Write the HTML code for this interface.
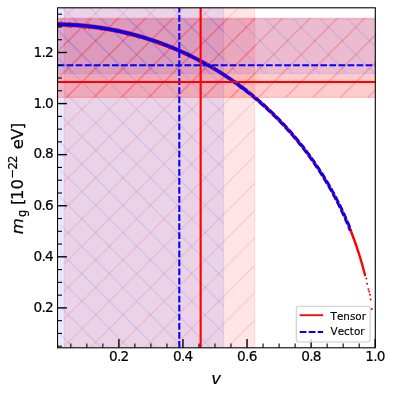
<!DOCTYPE html>
<html><head><meta charset="utf-8"><style>html,body{margin:0;padding:0;background:#fff;overflow:hidden}svg{display:block}</style></head>
<body>
<svg width="394" height="396" viewBox="0 0 394 396">
<defs>
<pattern id="hr" patternUnits="userSpaceOnUse" width="27.4" height="27.4" x="26.9" y="0"><path d="M-1 1 L1 -1 M0 27.4 L27.4 0 M26.4 28.4 L28.4 26.4" stroke="#f00" stroke-width="1.05" fill="none"/></pattern>
<pattern id="hb" patternUnits="userSpaceOnUse" width="27.4" height="27.4" x="0" y="0"><path d="M-1 -1 L1 1 M0 0 L27.4 27.4 M26.4 26.4 L28.4 28.4" stroke="#00f" stroke-width="1.05" fill="none"/></pattern>
<clipPath id="ax"><rect x="57.6" y="7.8" width="317.7" height="340.0"/></clipPath>
</defs>
<rect width="394" height="396" fill="#fff"/>
<g clip-path="url(#ax)">
<g opacity="0.1"><rect x="64.1" y="5.8" width="190.6" height="344.0" fill="#f00"/></g>
<g opacity="0.150"><rect x="64.1" y="5.8" width="190.6" height="344.0" fill="url(#hr)"/></g>
<rect x="64.1" y="5.8" width="190.6" height="344.0" fill="none" stroke="#f00" stroke-opacity="0.1" stroke-width="1.14"/>
<g opacity="0.08"><rect x="60.0" y="5.8" width="163.6" height="344.0" fill="#00f"/></g>
<g opacity="0.120"><rect x="60.0" y="5.8" width="163.6" height="344.0" fill="url(#hb)"/></g>
<rect x="60.0" y="5.8" width="163.6" height="344.0" fill="none" stroke="#00f" stroke-opacity="0.08" stroke-width="1.14"/>
<g opacity="0.2"><rect x="55.6" y="18.2" width="321.7" height="79.2" fill="#f00"/></g>
<g opacity="0.300"><rect x="55.6" y="18.2" width="321.7" height="79.2" fill="url(#hr)"/></g>
<rect x="55.6" y="18.2" width="321.7" height="79.2" fill="none" stroke="#f00" stroke-opacity="0.2" stroke-width="1.14"/>
<g opacity="0.08"><rect x="55.6" y="19.3" width="321.7" height="54.3" fill="#00f"/></g>
<g opacity="0.120"><rect x="55.6" y="19.3" width="321.7" height="54.3" fill="url(#hb)"/></g>
<rect x="55.6" y="19.3" width="321.7" height="54.3" fill="none" stroke="#00f" stroke-opacity="0.08" stroke-width="1.14"/>
<path d="M54.80 23.26 L55.58 23.26 L56.35 23.26 L57.13 23.27 L57.90 23.27 L58.68 23.28 L59.45 23.29 L60.23 23.30 L61.00 23.32 L61.78 23.34 L62.55 23.36 L63.33 23.38 L64.10 23.40 L64.88 23.42 L65.66 23.45 L66.43 23.48 L67.21 23.51 L67.98 23.54 L68.76 23.58 L69.53 23.61 L70.31 23.65 L71.08 23.69 L71.86 23.73 L72.63 23.78 L73.41 23.82 L74.18 23.87 L74.96 23.92 L75.73 23.97 L76.51 24.03 L77.29 24.08 L78.06 24.14 L78.84 24.20 L79.61 24.26 L80.39 24.33 L81.16 24.40 L81.94 24.46 L82.71 24.53 L83.49 24.61 L84.26 24.68 L85.04 24.76 L85.81 24.83 L86.59 24.91 L87.37 25.00 L88.14 25.08 L88.92 25.17 L89.69 25.25 L90.47 25.34 L91.24 25.44 L92.02 25.53 L92.79 25.63 L93.57 25.72 L94.34 25.82 L95.12 25.93 L95.89 26.03 L96.67 26.14 L97.45 26.24 L98.22 26.35 L99.00 26.47 L99.77 26.58 L100.55 26.70 L101.32 26.81 L102.10 26.93 L102.87 27.06 L103.65 27.18 L104.42 27.31 L105.20 27.44 L105.97 27.57 L106.75 27.70 L107.53 27.83 L108.30 27.97 L109.08 28.11 L109.85 28.25 L110.63 28.39 L111.40 28.54 L112.18 28.68 L112.95 28.83 L113.73 28.98 L114.50 29.14 L115.28 29.29 L116.05 29.45 L116.83 29.61 L117.60 29.77 L118.38 29.93 L119.16 30.10 L119.93 30.27 L120.71 30.44 L121.48 30.61 L122.26 30.78 L123.03 30.96 L123.81 31.14 L124.58 31.32 L125.36 31.50 L126.13 31.68 L126.91 31.87 L127.68 32.06 L128.46 32.25 L129.24 32.44 L130.01 32.64 L130.79 32.83 L131.56 33.03 L132.34 33.24 L133.11 33.44 L133.89 33.65 L134.66 33.85 L135.44 34.06 L136.21 34.28 L136.99 34.49 L137.76 34.71 L138.54 34.93 L139.32 35.15 L140.09 35.37 L140.87 35.60 L141.64 35.82 L142.42 36.05 L143.19 36.29 L143.97 36.52 L144.74 36.76 L145.52 36.99 L146.29 37.24 L147.07 37.48 L147.84 37.72 L148.62 37.97 L149.39 38.22 L150.17 38.47 L150.95 38.73 L151.72 38.99 L152.50 39.24 L153.27 39.51 L154.05 39.77 L154.82 40.04 L155.60 40.30 L156.37 40.57 L157.15 40.85 L157.92 41.12 L158.70 41.40 L159.47 41.68 L160.25 41.96 L161.03 42.24 L161.80 42.53 L162.58 42.82 L163.35 43.11 L164.13 43.41 L164.90 43.70 L165.68 44.00 L166.45 44.30 L167.23 44.60 L168.00 44.91 L168.78 45.22 L169.55 45.53 L170.33 45.84 L171.11 46.16 L171.88 46.47 L172.66 46.79 L173.43 47.12 L174.21 47.44 L174.98 47.77 L175.76 48.10 L176.53 48.43 L177.31 48.77 L178.08 49.10 L178.86 49.44 L179.63 49.79 L180.41 50.13 L181.18 50.48 L181.96 50.83 L182.74 51.18 L183.51 51.54 L184.29 51.89 L185.06 52.26 L185.84 52.62 L186.61 52.98 L187.39 53.35 L188.16 53.72 L188.94 54.10 L189.71 54.47 L190.49 54.85 L191.26 55.23 L192.04 55.61 L192.82 56.00 L193.59 56.39 L194.37 56.78 L195.14 57.18 L195.92 57.57 L196.69 57.97 L197.47 58.38 L198.24 58.78 L199.02 59.19 L199.79 59.60 L200.57 60.01 L201.34 60.43 L202.12 60.85 L202.90 61.27 L203.67 61.70 L204.45 62.12 L205.22 62.56 L206.00 62.99 L206.77 63.43 L207.55 63.86 L208.32 64.31 L209.10 64.75 L209.87 65.20 L210.65 65.65 L211.42 66.10 L212.20 66.56 L212.98 67.02 L213.75 67.48 L214.53 67.95 L215.30 68.42 L216.08 68.89 L216.85 69.36 L217.63 69.84 L218.40 70.32 L219.18 70.81 L219.95 71.29 L220.73 71.78 L221.50 72.28 L222.28 72.77 L223.05 73.27 L223.83 73.78 L224.61 74.28 L225.38 74.79 L226.16 75.31 L226.93 75.82 L227.71 76.34 L228.48 76.86 L229.26 77.39 L230.03 77.92 L230.81 78.45 L231.58 78.99 L232.36 79.52 L233.13 80.07 L233.91 80.61 L234.69 81.16 L235.46 81.72 L236.24 82.27 L237.01 82.83 L237.79 83.40 L238.56 83.96 L239.34 84.53 L240.11 85.11 L240.89 85.69 L241.66 86.27 L242.44 86.85 L243.21 87.44 L243.99 88.03 L244.77 88.63 L245.54 89.23 L246.32 89.83 L247.09 90.44 L247.87 91.05 L248.64 91.67 L249.42 92.29 L250.19 92.91 L250.97 93.54 L251.74 94.17 L252.52 94.80 L253.29 95.44 L254.07 96.09 L254.84 96.73 L255.62 97.39 L256.40 98.04 L257.17 98.70 L257.95 99.37 L258.72 100.03 L259.50 100.71 L260.27 101.38 L261.05 102.06 L261.82 102.75 L262.60 103.44 L263.37 104.13 L264.15 104.83 L264.92 105.54 L265.70 106.24 L266.48 106.96 L267.25 107.67 L268.03 108.40 L268.80 109.12 L269.58 109.86 L270.35 110.59 L271.13 111.33 L271.90 112.08 L272.68 112.83 L273.45 113.59 L274.23 114.35 L275.00 115.11 L275.78 115.88 L276.56 116.66 L277.33 117.44 L278.11 118.23 L278.88 119.02 L279.66 119.82 L280.43 120.62 L281.21 121.43 L281.98 122.25 L282.76 123.07 L283.53 123.89 L284.31 124.72 L285.08 125.56 L285.86 126.40 L286.64 127.25 L287.41 128.10 L288.19 128.97 L288.96 129.83 L289.74 130.71 L290.51 131.58 L291.29 132.47 L292.06 133.36 L292.84 134.26 L293.61 135.17 L294.39 136.08 L295.16 137.00 L295.94 137.92 L296.71 138.85 L297.49 139.79 L298.27 140.74 L299.04 141.69 L299.82 142.65 L300.59 143.62 L301.37 144.60 L302.14 145.58 L302.92 146.57 L303.69 147.57 L304.47 148.57 L305.24 149.59 L306.02 150.61 L306.79 151.64 L307.57 152.68 L308.35 153.73 L309.12 154.78 L309.90 155.85 L310.67 156.92 L311.45 158.00 L312.22 159.10 L313.00 160.20 L313.77 161.31 L314.55 162.43 L315.32 163.56 L316.10 164.70 L316.87 165.85 L317.65 167.01 L318.43 168.18 L319.20 169.36 L319.98 170.55 L320.75 171.76 L321.53 172.97 L322.30 174.20 L323.08 175.44 L323.85 176.69 L324.63 177.95 L325.40 179.22 L326.18 180.51 L326.95 181.81 L327.73 183.13 L328.50 184.46 L329.28 185.80 L330.06 187.15 L330.83 188.53 L331.61 189.91 L332.38 191.31 L333.16 192.73 L333.93 194.16 L334.71 195.61 L335.48 197.08 L336.26 198.57 L337.03 200.07 L337.81 201.59 L338.58 203.13 L339.36 204.69 L340.14 206.27 L340.91 207.87 L341.69 209.49 L342.46 211.14 L343.24 212.81 L344.01 214.50 L344.79 216.22 L345.56 217.96 L346.34 219.73 L347.11 221.52 L347.89 223.35 L348.66 225.20 L349.44 227.09 L350.22 229.01 L350.99 230.96 L351.77 232.95 L352.54 234.97 L353.32 237.04 L354.09 239.14 L354.87 241.29 L355.64 243.48 L356.42 245.72 L357.19 248.02 L357.97 250.37 L358.74 252.77 L359.52 255.24 L360.29 257.77 L361.07 260.38 L361.85 263.06 L362.62 265.83 L363.40 268.69 L364.17 271.66 L364.95 274.73 L364.95 275.31 L364.17 272.25 L363.40 269.31 L362.62 266.47 L361.85 263.72 L361.07 261.06 L360.29 258.47 L359.52 255.95 L358.74 253.50 L357.97 251.11 L357.19 248.78 L356.42 246.50 L355.64 244.27 L354.87 242.09 L354.09 239.96 L353.32 237.87 L352.54 235.82 L351.77 233.81 L350.99 231.84 L350.22 229.90 L349.44 227.99 L348.66 226.12 L347.89 224.28 L347.11 222.46 L346.34 220.68 L345.56 218.92 L344.79 217.19 L344.01 215.49 L343.24 213.81 L342.46 212.15 L341.69 210.52 L340.91 208.91 L340.14 207.32 L339.36 205.75 L338.58 204.20 L337.81 202.67 L337.03 201.16 L336.26 199.66 L335.48 198.19 L334.71 196.73 L333.93 195.29 L333.16 193.87 L332.38 192.46 L331.61 191.07 L330.83 189.69 L330.06 188.33 L329.28 186.98 L328.50 185.65 L327.73 184.33 L326.95 183.03 L326.18 181.73 L325.40 180.45 L324.63 179.19 L323.85 177.93 L323.08 176.69 L322.30 175.46 L321.53 174.24 L320.75 173.04 L319.98 171.84 L319.20 170.66 L318.43 169.48 L317.65 168.32 L316.87 167.17 L316.10 166.03 L315.32 164.89 L314.55 163.77 L313.77 162.66 L313.00 161.56 L312.22 160.46 L311.45 159.38 L310.67 158.30 L309.90 157.24 L309.12 156.18 L308.35 155.13 L307.57 154.09 L306.79 153.06 L306.02 152.04 L305.24 151.02 L304.47 150.01 L303.69 149.01 L302.92 148.02 L302.14 147.04 L301.37 146.06 L300.59 145.09 L299.82 144.13 L299.04 143.18 L298.27 142.23 L297.49 141.29 L296.71 140.36 L295.94 139.43 L295.16 138.52 L294.39 137.60 L293.61 136.70 L292.84 135.80 L292.06 134.91 L291.29 134.02 L290.51 133.14 L289.74 132.27 L288.96 131.40 L288.19 130.54 L287.41 129.69 L286.64 128.84 L285.86 127.99 L285.08 127.16 L284.31 126.33 L283.53 125.50 L282.76 124.68 L281.98 123.87 L281.21 123.06 L280.43 122.25 L279.66 121.46 L278.88 120.66 L278.11 119.88 L277.33 119.10 L276.56 118.32 L275.78 117.55 L275.00 116.78 L274.23 116.02 L273.45 115.27 L272.68 114.52 L271.90 113.77 L271.13 113.03 L270.35 112.29 L269.58 111.56 L268.80 110.83 L268.03 110.11 L267.25 109.40 L266.48 108.68 L265.70 107.98 L264.92 107.27 L264.15 106.57 L263.37 105.88 L262.60 105.19 L261.82 104.50 L261.05 103.82 L260.27 103.15 L259.50 102.47 L258.72 101.81 L257.95 101.14 L257.17 100.48 L256.40 99.83 L255.62 99.18 L254.84 98.53 L254.07 97.89 L253.29 97.25 L252.52 96.61 L251.74 95.98 L250.97 95.36 L250.19 94.73 L249.42 94.11 L248.64 93.50 L247.87 92.89 L247.09 92.28 L246.32 91.68 L245.54 91.08 L244.77 90.48 L243.99 89.89 L243.21 89.30 L242.44 88.72 L241.66 88.13 L240.89 87.56 L240.11 86.98 L239.34 86.41 L238.56 85.85 L237.79 85.28 L237.01 84.72 L236.24 84.17 L235.46 83.61 L234.69 83.07 L233.91 82.52 L233.13 81.98 L232.36 81.44 L231.58 80.90 L230.81 80.37 L230.03 79.84 L229.26 79.32 L228.48 78.79 L227.71 78.28 L226.93 77.76 L226.16 77.25 L225.38 76.74 L224.61 76.23 L223.83 75.73 L223.05 75.23 L222.28 74.73 L221.50 74.24 L220.73 73.75 L219.95 73.26 L219.18 72.78 L218.40 72.30 L217.63 71.82 L216.85 71.35 L216.08 70.88 L215.30 70.41 L214.53 69.94 L213.75 69.48 L212.98 69.02 L212.20 68.56 L211.42 68.11 L210.65 67.66 L209.87 67.21 L209.10 66.77 L208.32 66.32 L207.55 65.88 L206.77 65.45 L206.00 65.02 L205.22 64.58 L204.45 64.16 L203.67 63.73 L202.90 63.31 L202.12 62.89 L201.34 62.47 L200.57 62.06 L199.79 61.65 L199.02 61.24 L198.24 60.84 L197.47 60.43 L196.69 60.03 L195.92 59.64 L195.14 59.24 L194.37 58.85 L193.59 58.46 L192.82 58.08 L192.04 57.69 L191.26 57.31 L190.49 56.93 L189.71 56.56 L188.94 56.18 L188.16 55.81 L187.39 55.44 L186.61 55.08 L185.84 54.72 L185.06 54.36 L184.29 54.00 L183.51 53.64 L182.74 53.29 L181.96 52.94 L181.18 52.59 L180.41 52.25 L179.63 51.90 L178.86 51.56 L178.08 51.23 L177.31 50.89 L176.53 50.56 L175.76 50.23 L174.98 49.90 L174.21 49.58 L173.43 49.25 L172.66 48.93 L171.88 48.61 L171.11 48.30 L170.33 47.99 L169.55 47.67 L168.78 47.37 L168.00 47.06 L167.23 46.76 L166.45 46.46 L165.68 46.16 L164.90 45.86 L164.13 45.57 L163.35 45.27 L162.58 44.99 L161.80 44.70 L161.03 44.41 L160.25 44.13 L159.47 43.85 L158.70 43.57 L157.92 43.30 L157.15 43.02 L156.37 42.75 L155.60 42.49 L154.82 42.22 L154.05 41.95 L153.27 41.69 L152.50 41.43 L151.72 41.18 L150.95 40.92 L150.17 40.67 L149.39 40.42 L148.62 40.17 L147.84 39.92 L147.07 39.68 L146.29 39.44 L145.52 39.20 L144.74 38.96 L143.97 38.73 L143.19 38.49 L142.42 38.26 L141.64 38.04 L140.87 37.81 L140.09 37.59 L139.32 37.36 L138.54 37.14 L137.76 36.93 L136.99 36.71 L136.21 36.50 L135.44 36.29 L134.66 36.08 L133.89 35.87 L133.11 35.67 L132.34 35.47 L131.56 35.27 L130.79 35.07 L130.01 34.87 L129.24 34.68 L128.46 34.49 L127.68 34.30 L126.91 34.11 L126.13 33.92 L125.36 33.74 L124.58 33.56 L123.81 33.38 L123.03 33.20 L122.26 33.03 L121.48 32.86 L120.71 32.69 L119.93 32.52 L119.16 32.35 L118.38 32.19 L117.60 32.02 L116.83 31.86 L116.05 31.71 L115.28 31.55 L114.50 31.40 L113.73 31.24 L112.95 31.09 L112.18 30.95 L111.40 30.80 L110.63 30.66 L109.85 30.51 L109.08 30.37 L108.30 30.24 L107.53 30.10 L106.75 29.97 L105.97 29.84 L105.20 29.71 L104.42 29.58 L103.65 29.45 L102.87 29.33 L102.10 29.21 L101.32 29.09 L100.55 28.97 L99.77 28.86 L99.00 28.74 L98.22 28.63 L97.45 28.52 L96.67 28.41 L95.89 28.31 L95.12 28.21 L94.34 28.10 L93.57 28.01 L92.79 27.91 L92.02 27.81 L91.24 27.72 L90.47 27.63 L89.69 27.54 L88.92 27.45 L88.14 27.37 L87.37 27.28 L86.59 27.20 L85.81 27.12 L85.04 27.04 L84.26 26.97 L83.49 26.89 L82.71 26.82 L81.94 26.75 L81.16 26.69 L80.39 26.62 L79.61 26.56 L78.84 26.49 L78.06 26.44 L77.29 26.38 L76.51 26.32 L75.73 26.27 L74.96 26.22 L74.18 26.17 L73.41 26.12 L72.63 26.07 L71.86 26.03 L71.08 25.99 L70.31 25.95 L69.53 25.91 L68.76 25.87 L67.98 25.84 L67.21 25.81 L66.43 25.78 L65.66 25.75 L64.88 25.72 L64.10 25.70 L63.33 25.67 L62.55 25.65 L61.78 25.63 L61.00 25.62 L60.23 25.60 L59.45 25.59 L58.68 25.58 L57.90 25.57 L57.13 25.56 L56.35 25.56 L55.58 25.56 L54.80 25.56 Z" fill="#f00" stroke="#f00" stroke-width="2.2" stroke-linejoin="round"/>
<circle cx="365.1" cy="274.4" r="1.0" fill="#f00"/>
<circle cx="366.3" cy="278.6" r="1.0" fill="#f00"/>
<circle cx="367.1" cy="283.7" r="1.0" fill="#f00"/>
<circle cx="368.4" cy="289.2" r="1.0" fill="#f00"/>
<circle cx="369.1" cy="291.5" r="1.0" fill="#f00"/>
<circle cx="370.0" cy="294.8" r="1.0" fill="#f00"/>
<circle cx="370.6" cy="299.6" r="1.0" fill="#f00"/>
<circle cx="371.8" cy="308.9" r="1.0" fill="#f00"/>
<path d="M54.80 23.69 L55.28 23.69 L55.76 23.69 L56.24 23.69 L56.72 23.70 L57.20 23.70 L57.68 23.70 L58.16 23.71 L58.64 23.72 L59.13 23.72 L59.61 23.73 L60.09 23.74 L60.57 23.75 L61.05 23.75 L61.53 23.76 L62.01 23.78 L62.49 23.79 L62.97 23.80 L63.45 23.81 L63.93 23.83 L64.41 23.84 L64.89 23.86 L65.37 23.87 L65.85 23.89 L66.33 23.91 L66.81 23.93 L67.30 23.95 L67.78 23.97 L68.26 23.99 L68.74 24.01 L69.22 24.03 L69.70 24.05 L70.18 24.08 L70.66 24.10 L71.14 24.13 L71.62 24.15 L72.10 24.18 L72.58 24.21 L73.06 24.24 L73.54 24.27 L74.02 24.29 L74.50 24.33 L74.99 24.36 L75.47 24.39 L75.95 24.42 L76.43 24.46 L76.91 24.49 L77.39 24.53 L77.87 24.56 L78.35 24.60 L78.83 24.64 L79.31 24.67 L79.79 24.71 L80.27 24.75 L80.75 24.79 L81.23 24.83 L81.71 24.88 L82.19 24.92 L82.67 24.96 L83.16 25.01 L83.64 25.05 L84.12 25.10 L84.60 25.14 L85.08 25.19 L85.56 25.24 L86.04 25.29 L86.52 25.34 L87.00 25.39 L87.48 25.44 L87.96 25.49 L88.44 25.54 L88.92 25.60 L89.40 25.65 L89.88 25.71 L90.36 25.76 L90.84 25.82 L91.33 25.88 L91.81 25.93 L92.29 25.99 L92.77 26.05 L93.25 26.11 L93.73 26.17 L94.21 26.24 L94.69 26.30 L95.17 26.36 L95.65 26.43 L96.13 26.49 L96.61 26.56 L97.09 26.62 L97.57 26.69 L98.05 26.76 L98.53 26.83 L99.02 26.90 L99.50 26.97 L99.98 27.04 L100.46 27.11 L100.94 27.19 L101.42 27.26 L101.90 27.33 L102.38 27.41 L102.86 27.48 L103.34 27.56 L103.82 27.64 L104.30 27.72 L104.78 27.80 L105.26 27.88 L105.74 27.96 L106.22 28.04 L106.70 28.12 L107.19 28.20 L107.67 28.29 L108.15 28.37 L108.63 28.46 L109.11 28.54 L109.59 28.63 L110.07 28.72 L110.55 28.81 L111.03 28.89 L111.51 28.98 L111.99 29.08 L112.47 29.17 L112.95 29.26 L113.43 29.35 L113.91 29.45 L114.39 29.54 L114.88 29.64 L115.36 29.73 L115.84 29.83 L116.32 29.93 L116.80 30.03 L117.28 30.13 L117.76 30.23 L118.24 30.33 L118.72 30.43 L119.20 30.53 L119.68 30.64 L120.16 30.74 L120.64 30.85 L121.12 30.95 L121.60 31.06 L122.08 31.17 L122.56 31.28 L123.05 31.39 L123.53 31.50 L124.01 31.61 L124.49 31.72 L124.97 31.83 L125.45 31.94 L125.93 32.06 L126.41 32.17 L126.89 32.29 L127.37 32.40 L127.85 32.52 L128.33 32.64 L128.81 32.76 L129.29 32.88 L129.77 33.00 L130.25 33.12 L130.73 33.24 L131.22 33.37 L131.70 33.49 L132.18 33.62 L132.66 33.74 L133.14 33.87 L133.62 33.99 L134.10 34.12 L134.58 34.25 L135.06 34.38 L135.54 34.51 L136.02 34.64 L136.50 34.78 L136.98 34.91 L137.46 35.04 L137.94 35.18 L138.42 35.31 L138.91 35.45 L139.39 35.59 L139.87 35.72 L140.35 35.86 L140.83 36.00 L141.31 36.14 L141.79 36.28 L142.27 36.43 L142.75 36.57 L143.23 36.71 L143.71 36.86 L144.19 37.00 L144.67 37.15 L145.15 37.30 L145.63 37.45 L146.11 37.60 L146.59 37.75 L147.08 37.90 L147.56 38.05 L148.04 38.20 L148.52 38.35 L149.00 38.51 L149.48 38.66 L149.96 38.82 L150.44 38.98 L150.92 39.13 L151.40 39.29 L151.88 39.45 L152.36 39.61 L152.84 39.77 L153.32 39.94 L153.80 40.10 L154.28 40.26 L154.76 40.43 L155.25 40.59 L155.73 40.76 L156.21 40.93 L156.69 41.10 L157.17 41.26 L157.65 41.43 L158.13 41.61 L158.61 41.78 L159.09 41.95 L159.57 42.12 L160.05 42.30 L160.53 42.47 L161.01 42.65 L161.49 42.83 L161.97 43.00 L162.45 43.18 L162.94 43.36 L163.42 43.54 L163.90 43.73 L164.38 43.91 L164.86 44.09 L165.34 44.28 L165.82 44.46 L166.30 44.65 L166.78 44.84 L167.26 45.02 L167.74 45.21 L168.22 45.40 L168.70 45.59 L169.18 45.78 L169.66 45.98 L170.14 46.17 L170.62 46.37 L171.11 46.56 L171.59 46.76 L172.07 46.95 L172.55 47.15 L173.03 47.35 L173.51 47.55 L173.99 47.75 L174.47 47.96 L174.95 48.16 L175.43 48.36 L175.91 48.57 L176.39 48.77 L176.87 48.98 L177.35 49.19 L177.83 49.40 L178.31 49.61 L178.79 49.82 L179.28 50.03 L179.76 50.24 L180.24 50.45 L180.72 50.67 L181.20 50.88 L181.68 51.10 L182.16 51.32 L182.64 51.54 L183.12 51.76 L183.60 51.98 L184.08 52.20 L184.56 52.42 L185.04 52.64 L185.52 52.87 L186.00 53.09 L186.48 53.32 L186.96 53.55 L187.45 53.77 L187.93 54.00 L188.41 54.23 L188.89 54.46 L189.37 54.70 L189.85 54.93 L190.33 55.16 L190.81 55.40 L191.29 55.64 L191.77 55.87 L192.25 56.11 L192.73 56.35 L193.21 56.59 L193.69 56.83 L194.17 57.08 L194.65 57.32 L195.14 57.56 L195.62 57.81 L196.10 58.06 L196.58 58.30 L197.06 58.55 L197.54 58.80 L198.02 59.05 L198.50 59.30 L198.98 59.56 L199.46 59.81 L199.94 60.07 L200.42 60.32 L200.90 60.58 L201.38 60.84 L201.86 61.10 L202.34 61.36 L202.82 61.62 L203.31 61.88 L203.79 62.14 L204.27 62.41 L204.75 62.68 L205.23 62.94 L205.71 63.21 L206.19 63.48 L206.67 63.75 L207.15 64.02 L207.63 64.29 L208.11 64.57 L208.59 64.84 L209.07 65.12 L209.55 65.39 L210.03 65.67 L210.51 65.95 L211.00 66.23 L211.48 66.51 L211.96 66.80 L212.44 67.08 L212.92 67.36 L213.40 67.65 L213.88 67.94 L214.36 68.22 L214.84 68.51 L215.32 68.80 L215.80 69.10 L216.28 69.39 L216.76 69.68 L217.24 69.98 L217.72 70.28 L218.20 70.57 L218.68 70.87 L219.17 71.17 L219.65 71.47 L220.13 71.78 L220.61 72.08 L221.09 72.38 L221.57 72.69 L222.05 73.00 L222.53 73.31 L223.01 73.61 L223.49 73.93 L223.97 74.24 L224.45 74.55 L224.93 74.87 L225.41 75.18 L225.89 75.50 L226.37 75.82 L226.85 76.14 L227.34 76.46 L227.82 76.78 L228.30 77.10 L228.78 77.43 L229.26 77.75 L229.74 78.08 L230.22 78.41 L230.70 78.74 L231.18 79.07 L231.66 79.40 L232.14 79.73 L232.62 80.07 L233.10 80.41 L233.58 80.74 L234.06 81.08 L234.54 81.42 L235.02 81.76 L235.51 82.11 L235.99 82.45 L236.47 82.80 L236.95 83.14 L237.43 83.49 L237.91 83.84 L238.39 84.19 L238.87 84.54 L239.35 84.90 L239.83 85.25 L240.31 85.61 L240.79 85.97 L241.27 86.33 L241.75 86.69 L242.23 87.05 L242.71 87.41 L243.20 87.78 L243.68 88.14 L244.16 88.51 L244.64 88.88 L245.12 89.25 L245.60 89.62 L246.08 90.00 L246.56 90.37 L247.04 90.75 L247.04 91.89 L246.56 91.52 L246.08 91.14 L245.60 90.77 L245.12 90.40 L244.64 90.03 L244.16 89.67 L243.68 89.30 L243.20 88.93 L242.71 88.57 L242.23 88.21 L241.75 87.85 L241.27 87.49 L240.79 87.13 L240.31 86.78 L239.83 86.42 L239.35 86.07 L238.87 85.71 L238.39 85.36 L237.91 85.01 L237.43 84.67 L236.95 84.32 L236.47 83.97 L235.99 83.63 L235.51 83.29 L235.02 82.95 L234.54 82.61 L234.06 82.27 L233.58 81.93 L233.10 81.59 L232.62 81.26 L232.14 80.93 L231.66 80.59 L231.18 80.26 L230.70 79.93 L230.22 79.60 L229.74 79.28 L229.26 78.95 L228.78 78.63 L228.30 78.30 L227.82 77.98 L227.34 77.66 L226.85 77.34 L226.37 77.02 L225.89 76.71 L225.41 76.39 L224.93 76.08 L224.45 75.76 L223.97 75.45 L223.49 75.14 L223.01 74.83 L222.53 74.52 L222.05 74.22 L221.57 73.91 L221.09 73.61 L220.61 73.30 L220.13 73.00 L219.65 72.70 L219.17 72.40 L218.68 72.10 L218.20 71.80 L217.72 71.51 L217.24 71.21 L216.76 70.92 L216.28 70.62 L215.80 70.33 L215.32 70.04 L214.84 69.75 L214.36 69.47 L213.88 69.18 L213.40 68.89 L212.92 68.61 L212.44 68.32 L211.96 68.04 L211.48 67.76 L211.00 67.48 L210.51 67.20 L210.03 66.92 L209.55 66.65 L209.07 66.37 L208.59 66.10 L208.11 65.82 L207.63 65.55 L207.15 65.28 L206.67 65.01 L206.19 64.74 L205.71 64.47 L205.23 64.21 L204.75 63.94 L204.27 63.67 L203.79 63.41 L203.31 63.15 L202.82 62.89 L202.34 62.63 L201.86 62.37 L201.38 62.11 L200.90 61.85 L200.42 61.60 L199.94 61.34 L199.46 61.09 L198.98 60.83 L198.50 60.58 L198.02 60.33 L197.54 60.08 L197.06 59.83 L196.58 59.59 L196.10 59.34 L195.62 59.09 L195.14 58.85 L194.65 58.61 L194.17 58.36 L193.69 58.12 L193.21 57.88 L192.73 57.64 L192.25 57.40 L191.77 57.17 L191.29 56.93 L190.81 56.69 L190.33 56.46 L189.85 56.23 L189.37 56.00 L188.89 55.76 L188.41 55.53 L187.93 55.30 L187.45 55.08 L186.96 54.85 L186.48 54.62 L186.00 54.40 L185.52 54.17 L185.04 53.95 L184.56 53.73 L184.08 53.51 L183.60 53.29 L183.12 53.07 L182.64 52.85 L182.16 52.63 L181.68 52.41 L181.20 52.20 L180.72 51.98 L180.24 51.77 L179.76 51.56 L179.28 51.35 L178.79 51.14 L178.31 50.93 L177.83 50.72 L177.35 50.51 L176.87 50.30 L176.39 50.10 L175.91 49.89 L175.43 49.69 L174.95 49.48 L174.47 49.28 L173.99 49.08 L173.51 48.88 L173.03 48.68 L172.55 48.48 L172.07 48.29 L171.59 48.09 L171.11 47.89 L170.62 47.70 L170.14 47.51 L169.66 47.31 L169.18 47.12 L168.70 46.93 L168.22 46.74 L167.74 46.55 L167.26 46.36 L166.78 46.18 L166.30 45.99 L165.82 45.80 L165.34 45.62 L164.86 45.44 L164.38 45.25 L163.90 45.07 L163.42 44.89 L162.94 44.71 L162.45 44.53 L161.97 44.35 L161.49 44.18 L161.01 44.00 L160.53 43.82 L160.05 43.65 L159.57 43.48 L159.09 43.30 L158.61 43.13 L158.13 42.96 L157.65 42.79 L157.17 42.62 L156.69 42.45 L156.21 42.28 L155.73 42.12 L155.25 41.95 L154.76 41.79 L154.28 41.62 L153.80 41.46 L153.32 41.30 L152.84 41.14 L152.36 40.98 L151.88 40.82 L151.40 40.66 L150.92 40.50 L150.44 40.34 L149.96 40.19 L149.48 40.03 L149.00 39.88 L148.52 39.72 L148.04 39.57 L147.56 39.42 L147.08 39.27 L146.59 39.12 L146.11 38.97 L145.63 38.82 L145.15 38.67 L144.67 38.52 L144.19 38.38 L143.71 38.23 L143.23 38.09 L142.75 37.95 L142.27 37.80 L141.79 37.66 L141.31 37.52 L140.83 37.38 L140.35 37.24 L139.87 37.10 L139.39 36.97 L138.91 36.83 L138.42 36.69 L137.94 36.56 L137.46 36.42 L136.98 36.29 L136.50 36.16 L136.02 36.03 L135.54 35.90 L135.06 35.77 L134.58 35.64 L134.10 35.51 L133.62 35.38 L133.14 35.25 L132.66 35.13 L132.18 35.00 L131.70 34.88 L131.22 34.76 L130.73 34.63 L130.25 34.51 L129.77 34.39 L129.29 34.27 L128.81 34.15 L128.33 34.03 L127.85 33.91 L127.37 33.80 L126.89 33.68 L126.41 33.57 L125.93 33.45 L125.45 33.34 L124.97 33.23 L124.49 33.11 L124.01 33.00 L123.53 32.89 L123.05 32.78 L122.56 32.67 L122.08 32.57 L121.60 32.46 L121.12 32.35 L120.64 32.25 L120.16 32.14 L119.68 32.04 L119.20 31.93 L118.72 31.83 L118.24 31.73 L117.76 31.63 L117.28 31.53 L116.80 31.43 L116.32 31.33 L115.84 31.24 L115.36 31.14 L114.88 31.04 L114.39 30.95 L113.91 30.85 L113.43 30.76 L112.95 30.67 L112.47 30.57 L111.99 30.48 L111.51 30.39 L111.03 30.30 L110.55 30.21 L110.07 30.13 L109.59 30.04 L109.11 29.95 L108.63 29.87 L108.15 29.78 L107.67 29.70 L107.19 29.61 L106.70 29.53 L106.22 29.45 L105.74 29.37 L105.26 29.29 L104.78 29.21 L104.30 29.13 L103.82 29.05 L103.34 28.97 L102.86 28.90 L102.38 28.82 L101.90 28.75 L101.42 28.67 L100.94 28.60 L100.46 28.53 L99.98 28.46 L99.50 28.39 L99.02 28.32 L98.53 28.25 L98.05 28.18 L97.57 28.11 L97.09 28.04 L96.61 27.98 L96.13 27.91 L95.65 27.85 L95.17 27.78 L94.69 27.72 L94.21 27.66 L93.73 27.59 L93.25 27.53 L92.77 27.47 L92.29 27.41 L91.81 27.36 L91.33 27.30 L90.84 27.24 L90.36 27.18 L89.88 27.13 L89.40 27.07 L88.92 27.02 L88.44 26.97 L87.96 26.91 L87.48 26.86 L87.00 26.81 L86.52 26.76 L86.04 26.71 L85.56 26.66 L85.08 26.62 L84.60 26.57 L84.12 26.52 L83.64 26.48 L83.16 26.43 L82.67 26.39 L82.19 26.34 L81.71 26.30 L81.23 26.26 L80.75 26.22 L80.27 26.18 L79.79 26.14 L79.31 26.10 L78.83 26.06 L78.35 26.02 L77.87 25.99 L77.39 25.95 L76.91 25.92 L76.43 25.88 L75.95 25.85 L75.47 25.82 L74.99 25.78 L74.50 25.75 L74.02 25.72 L73.54 25.69 L73.06 25.66 L72.58 25.64 L72.10 25.61 L71.62 25.58 L71.14 25.56 L70.66 25.53 L70.18 25.51 L69.70 25.48 L69.22 25.46 L68.74 25.44 L68.26 25.42 L67.78 25.40 L67.30 25.38 L66.81 25.36 L66.33 25.34 L65.85 25.32 L65.37 25.30 L64.89 25.29 L64.41 25.27 L63.93 25.26 L63.45 25.24 L62.97 25.23 L62.49 25.22 L62.01 25.21 L61.53 25.19 L61.05 25.18 L60.57 25.18 L60.09 25.17 L59.61 25.16 L59.13 25.15 L58.64 25.15 L58.16 25.14 L57.68 25.13 L57.20 25.13 L56.72 25.13 L56.24 25.12 L55.76 25.12 L55.28 25.12 L54.80 25.12 Z" fill="#00f" stroke="#00f" stroke-width="2.0" stroke-linejoin="round"/>
<path d="M234.63 81.22 L235.02 81.49 L235.40 81.77 L235.79 82.04 L236.18 82.32 L236.57 82.60 L236.96 82.88 L237.35 83.16 L237.74 83.44 L238.12 83.72 L238.51 84.00 L238.90 84.29 L239.29 84.57 L239.68 84.85 L240.07 85.14 L240.46 85.43 L240.84 85.72 L241.23 86.00 L241.62 86.29 L242.01 86.59 L242.40 86.88 L242.79 87.17 L243.18 87.46 L243.56 87.76 L243.95 88.05 L244.34 88.35 L244.73 88.65 L245.12 88.94 L245.51 89.24 L245.90 89.54 L246.28 89.84 L246.67 90.15 L247.06 90.45 L247.45 90.75 L247.84 91.06 L248.23 91.36 L248.61 91.67 L249.00 91.98 L249.39 92.29 L249.78 92.59 L250.17 92.91 L250.56 93.22 L250.95 93.53 L251.33 93.84 L251.72 94.16 L252.11 94.47 L252.50 94.79 L252.89 95.11 L253.28 95.43 L253.67 95.74 L254.05 96.07 L254.44 96.39 L254.83 96.71 L255.22 97.03 L255.61 97.36 L256.00 97.68 L256.39 98.01 L256.77 98.34 L257.16 98.67 L257.55 99.00 L257.94 99.33 L258.33 99.66 L258.72 99.99 L259.10 100.33 L259.49 100.66 L259.88 101.00 L260.27 101.33 L260.66 101.67 L261.05 102.01 L261.44 102.35 L261.82 102.69 L262.21 103.04 L262.60 103.38 L262.99 103.73 L263.38 104.07 L263.77 104.42 L264.16 104.77 L264.54 105.12 L264.93 105.47 L265.32 105.82 L265.71 106.17 L266.10 106.53 L266.49 106.88 L266.88 107.24 L267.26 107.59 L267.65 107.95 L268.04 108.31 L268.43 108.67 L268.82 109.04 L269.21 109.40 L269.59 109.76 L269.98 110.13 L270.37 110.50 L270.76 110.86 L271.15 111.23 L271.54 111.60 L271.93 111.98 L272.31 112.35 L272.70 112.72 L273.09 113.10 L273.48 113.47 L273.87 113.85 L274.26 114.23 L274.65 114.61 L275.03 114.99 L275.42 115.38 L275.81 115.76 L276.20 116.15 L276.59 116.53 L276.98 116.92 L277.37 117.31 L277.75 117.70 L278.14 118.09 L278.53 118.49 L278.92 118.88 L279.31 119.28 L279.70 119.68 L280.08 120.07 L280.47 120.47 L280.86 120.88 L281.25 121.28 L281.64 121.68 L282.03 122.09 L282.42 122.50 L282.80 122.90 L283.19 123.31 L283.58 123.72 L283.97 124.14 L284.36 124.55 L284.75 124.97 L285.14 125.38 L285.52 125.80 L285.91 126.22 L286.30 126.64 L286.69 127.07 L287.08 127.49 L287.47 127.92 L287.86 128.34 L288.24 128.77 L288.63 129.20 L289.02 129.63 L289.41 130.07 L289.80 130.50 L290.19 130.94 L290.57 131.38 L290.96 131.82 L291.35 132.26 L291.74 132.70 L292.13 133.14 L292.52 133.59 L292.91 134.04 L293.29 134.49 L293.68 134.94 L294.07 135.39 L294.46 135.84 L294.85 136.30 L295.24 136.76 L295.63 137.22 L296.01 137.68 L296.40 138.14 L296.79 138.60 L297.18 139.07 L297.57 139.54 L297.96 140.01 L298.34 140.48 L298.73 140.95 L299.12 141.43 L299.51 141.90 L299.90 142.38 L300.29 142.86 L300.68 143.34 L301.06 143.83 L301.45 144.31 L301.84 144.80 L302.23 145.29 L302.62 145.78 L303.01 146.28 L303.40 146.77 L303.78 147.27 L304.17 147.77 L304.56 148.27 L304.95 148.77 L305.34 149.28 L305.73 149.78 L306.11 150.29 L306.50 150.80 L306.89 151.32 L307.28 151.83 L307.67 152.35 L308.06 152.87 L308.45 153.39 L308.83 153.91 L309.22 154.44 L309.61 154.97 L310.00 155.50 L310.39 156.03 L310.78 156.56 L311.17 157.10 L311.55 157.64 L311.94 158.18 L312.33 158.72 L312.72 159.27 L313.11 159.82 L313.50 160.37 L313.88 160.92 L314.27 161.48 L314.66 162.03 L315.05 162.59 L315.44 163.16 L315.83 163.72 L316.22 164.29 L316.60 164.86 L316.99 165.43 L317.38 166.01 L317.77 166.58 L318.16 167.17 L318.55 167.75 L318.94 168.33 L319.32 168.92 L319.71 169.51 L320.10 170.11 L320.49 170.70 L320.88 171.30 L321.27 171.90 L321.65 172.51 L322.04 173.12 L322.43 173.73 L322.82 174.34 L323.21 174.96 L323.60 175.57 L323.99 176.20 L324.37 176.82 L324.76 177.45 L325.15 178.08 L325.54 178.72 L325.93 179.35 L326.32 180.00 L326.70 180.64 L327.09 181.29 L327.48 181.94 L327.87 182.59 L328.26 183.25 L328.65 183.91 L329.04 184.57 L329.42 185.24 L329.81 185.91 L330.20 186.59 L330.59 187.27 L330.98 187.95 L331.37 188.63 L331.76 189.32 L332.14 190.02 L332.53 190.71 L332.92 191.42 L333.31 192.12 L333.70 192.83 L334.09 193.54 L334.47 194.26 L334.86 194.98 L335.25 195.71 L335.64 196.44 L336.03 197.17 L336.42 197.91 L336.81 198.65 L337.19 199.40 L337.58 200.15 L337.97 200.91 L338.36 201.67 L338.75 202.43 L339.14 203.20 L339.52 203.98 L339.91 204.76 L340.30 205.54 L340.69 206.34 L341.08 207.13 L341.47 207.93 L341.86 208.74 L342.24 209.55 L342.63 210.37 L343.02 211.19 L343.41 212.02 L343.80 212.85 L344.19 213.70 L344.58 214.54 L344.96 215.40 L345.35 216.25 L345.74 217.12 L346.13 217.99 L346.52 218.87 L346.91 219.76 L347.29 220.65 L347.68 221.55 L348.07 222.45 L348.46 223.37 L348.85 224.29 L349.24 225.22 L349.63 226.15 L350.01 227.10 L350.40 228.05 L350.79 229.01 L351.18 229.98" fill="none" stroke="#00f" stroke-width="2.2" stroke-dasharray="6.5 2.6" stroke-dashoffset="0.0"/>
<path d="M233.82 82.36 L234.21 82.63 L234.59 82.91 L234.98 83.18 L235.37 83.46 L235.75 83.74 L236.14 84.01 L236.53 84.29 L236.92 84.57 L237.30 84.85 L237.69 85.13 L238.08 85.42 L238.46 85.70 L238.85 85.98 L239.24 86.27 L239.62 86.55 L240.01 86.84 L240.40 87.13 L240.78 87.42 L241.17 87.71 L241.56 88.00 L241.94 88.29 L242.33 88.58 L242.72 88.87 L243.10 89.17 L243.49 89.46 L243.88 89.76 L244.26 90.05 L244.65 90.35 L245.04 90.65 L245.43 90.95 L245.81 91.25 L246.20 91.55 L246.59 91.85 L246.97 92.16 L247.36 92.46 L247.75 92.77 L248.13 93.07 L248.52 93.38 L248.91 93.69 L249.29 94.00 L249.68 94.31 L250.07 94.62 L250.45 94.93 L250.84 95.24 L251.23 95.56 L251.61 95.87 L252.00 96.19 L252.39 96.51 L252.78 96.83 L253.16 97.14 L253.55 97.46 L253.94 97.79 L254.32 98.11 L254.71 98.43 L255.10 98.76 L255.48 99.08 L255.87 99.41 L256.26 99.73 L256.64 100.06 L257.03 100.39 L257.42 100.72 L257.80 101.05 L258.19 101.39 L258.58 101.72 L258.97 102.06 L259.35 102.39 L259.74 102.73 L260.13 103.07 L260.51 103.40 L260.90 103.75 L261.29 104.09 L261.67 104.43 L262.06 104.77 L262.45 105.12 L262.83 105.46 L263.22 105.81 L263.61 106.16 L263.99 106.51 L264.38 106.86 L264.77 107.21 L265.15 107.56 L265.54 107.91 L265.93 108.27 L266.32 108.62 L266.70 108.98 L267.09 109.34 L267.48 109.70 L267.86 110.06 L268.25 110.42 L268.64 110.78 L269.02 111.15 L269.41 111.51 L269.80 111.88 L270.18 112.25 L270.57 112.62 L270.96 112.99 L271.34 113.36 L271.73 113.73 L272.12 114.10 L272.50 114.48 L272.89 114.86 L273.28 115.23 L273.67 115.61 L274.05 115.99 L274.44 116.37 L274.83 116.76 L275.21 117.14 L275.60 117.52 L275.99 117.91 L276.37 118.30 L276.76 118.69 L277.15 119.08 L277.53 119.47 L277.92 119.86 L278.31 120.26 L278.69 120.65 L279.08 121.05 L279.47 121.45 L279.85 121.85 L280.24 122.25 L280.63 122.65 L281.02 123.06 L281.40 123.46 L281.79 123.87 L282.18 124.28 L282.56 124.69 L282.95 125.10 L283.34 125.51 L283.72 125.92 L284.11 126.34 L284.50 126.75 L284.88 127.17 L285.27 127.59 L285.66 128.01 L286.04 128.44 L286.43 128.86 L286.82 129.28 L287.21 129.71 L287.59 130.14 L287.98 130.57 L288.37 131.00 L288.75 131.43 L289.14 131.87 L289.53 132.31 L289.91 132.74 L290.30 133.18 L290.69 133.62 L291.07 134.07 L291.46 134.51 L291.85 134.96 L292.23 135.40 L292.62 135.85 L293.01 136.30 L293.40 136.75 L293.78 137.21 L294.17 137.66 L294.56 138.12 L294.94 138.58 L295.33 139.04 L295.72 139.50 L296.10 139.97 L296.49 140.43 L296.88 140.90 L297.26 141.37 L297.65 141.84 L298.04 142.31 L298.42 142.79 L298.81 143.26 L299.20 143.74 L299.58 144.22 L299.97 144.70 L300.36 145.19 L300.75 145.67 L301.13 146.16 L301.52 146.65 L301.91 147.14 L302.29 147.63 L302.68 148.13 L303.07 148.63 L303.45 149.12 L303.84 149.63 L304.23 150.13 L304.61 150.63 L305.00 151.14 L305.39 151.65 L305.77 152.16 L306.16 152.67 L306.55 153.19 L306.94 153.71 L307.32 154.22 L307.71 154.75 L308.10 155.27 L308.48 155.80 L308.87 156.32 L309.26 156.85 L309.64 157.39 L310.03 157.92 L310.42 158.46 L310.80 159.00 L311.19 159.54 L311.58 160.08 L311.96 160.63 L312.35 161.18 L312.74 161.73 L313.13 162.28 L313.51 162.83 L313.90 163.39 L314.29 163.95 L314.67 164.51 L315.06 165.08 L315.45 165.65 L315.83 166.22 L316.22 166.79 L316.61 167.37 L316.99 167.94 L317.38 168.52 L317.77 169.11 L318.15 169.69 L318.54 170.28 L318.93 170.87 L319.32 171.47 L319.70 172.06 L320.09 172.66 L320.48 173.26 L320.86 173.87 L321.25 174.48 L321.64 175.09 L322.02 175.70 L322.41 176.32 L322.80 176.94 L323.18 177.56 L323.57 178.19 L323.96 178.81 L324.34 179.45 L324.73 180.08 L325.12 180.72 L325.51 181.36 L325.89 182.01 L326.28 182.65 L326.67 183.31 L327.05 183.96 L327.44 184.62 L327.83 185.28 L328.21 185.94 L328.60 186.61 L328.99 187.28 L329.37 187.96 L329.76 188.64 L330.15 189.32 L330.53 190.01 L330.92 190.70 L331.31 191.39 L331.70 192.09 L332.08 192.79 L332.47 193.50 L332.86 194.21 L333.24 194.92 L333.63 195.64 L334.02 196.37 L334.40 197.09 L334.79 197.82 L335.18 198.56 L335.56 199.30 L335.95 200.04 L336.34 200.79 L336.72 201.54 L337.11 202.30 L337.50 203.06 L337.89 203.83 L338.27 204.60 L338.66 205.38 L339.05 206.16 L339.43 206.95 L339.82 207.74 L340.21 208.54 L340.59 209.34 L340.98 210.15 L341.37 210.97 L341.75 211.79 L342.14 212.61 L342.53 213.44 L342.92 214.28 L343.30 215.12 L343.69 215.97 L344.08 216.83 L344.46 217.69 L344.85 218.56 L345.24 219.43 L345.62 220.32 L346.01 221.20 L346.40 222.10 L346.78 223.00 L347.17 223.91 L347.56 224.83 L347.94 225.75 L348.33 226.69 L348.72 227.63 L349.11 228.57 L349.49 229.53 L349.88 230.50" fill="none" stroke="#00f" stroke-width="2.2" stroke-dasharray="6.5 2.6" stroke-dashoffset="4.5"/>
<g fill="#f00"><circle cx="127.83" cy="35.38" r="0.8"/><circle cx="129.94" cy="35.77" r="0.8"/><circle cx="84.60" cy="28.08" r="0.8"/><circle cx="182.71" cy="53.76" r="0.8"/><circle cx="69.22" cy="22.48" r="0.8"/><circle cx="61.46" cy="22.09" r="0.8"/><circle cx="160.26" cy="44.74" r="0.8"/><circle cx="57.22" cy="26.44" r="0.8"/><circle cx="85.47" cy="27.92" r="0.8"/><circle cx="129.69" cy="35.80" r="0.8"/><circle cx="138.56" cy="37.99" r="0.8"/><circle cx="161.65" cy="45.27" r="0.8"/><circle cx="213.42" cy="67.00" r="0.8"/><circle cx="168.96" cy="48.00" r="0.8"/><circle cx="101.45" cy="30.20" r="0.8"/><circle cx="118.49" cy="29.07" r="0.8"/><circle cx="207.29" cy="63.55" r="0.8"/><circle cx="88.16" cy="24.08" r="0.8"/><circle cx="212.88" cy="69.11" r="0.8"/><circle cx="156.33" cy="43.40" r="0.8"/><circle cx="68.87" cy="27.11" r="0.8"/><circle cx="177.06" cy="51.30" r="0.8"/><circle cx="71.11" cy="27.15" r="0.8"/><circle cx="83.47" cy="27.90" r="0.8"/><circle cx="85.55" cy="27.97" r="0.8"/><circle cx="158.65" cy="44.25" r="0.8"/><circle cx="89.17" cy="28.68" r="0.8"/><circle cx="184.49" cy="54.73" r="0.8"/></g>
<line x1="200.65" y1="347.8" x2="200.65" y2="7.8" stroke="#f00" stroke-width="2.1"/>
<line x1="179.3" y1="347.8" x2="179.3" y2="7.8" stroke="#00f" stroke-width="2.1" stroke-dasharray="6.75 2.31"/>
<line x1="57.6" y1="82.0" x2="375.3" y2="82.0" stroke="#f00" stroke-width="2.1"/>
<line x1="57.6" y1="65.2" x2="375.3" y2="65.2" stroke="#00f" stroke-width="2.1" stroke-dasharray="6.75 2.31"/>
</g>
<line x1="70.82" y1="347.8" x2="70.82" y2="343.5" stroke="#000" stroke-width="1.1"/>
<line x1="86.84" y1="347.8" x2="86.84" y2="343.5" stroke="#000" stroke-width="1.1"/>
<line x1="102.86" y1="347.8" x2="102.86" y2="343.5" stroke="#000" stroke-width="1.1"/>
<line x1="118.88" y1="347.8" x2="118.88" y2="338.90000000000003" stroke="#000" stroke-width="1.4"/>
<line x1="134.90" y1="347.8" x2="134.90" y2="343.5" stroke="#000" stroke-width="1.1"/>
<line x1="150.92" y1="347.8" x2="150.92" y2="343.5" stroke="#000" stroke-width="1.1"/>
<line x1="166.94" y1="347.8" x2="166.94" y2="343.5" stroke="#000" stroke-width="1.1"/>
<line x1="182.96" y1="347.8" x2="182.96" y2="338.90000000000003" stroke="#000" stroke-width="1.4"/>
<line x1="198.98" y1="347.8" x2="198.98" y2="343.5" stroke="#000" stroke-width="1.1"/>
<line x1="215.00" y1="347.8" x2="215.00" y2="343.5" stroke="#000" stroke-width="1.1"/>
<line x1="231.02" y1="347.8" x2="231.02" y2="343.5" stroke="#000" stroke-width="1.1"/>
<line x1="247.04" y1="347.8" x2="247.04" y2="338.90000000000003" stroke="#000" stroke-width="1.4"/>
<line x1="263.06" y1="347.8" x2="263.06" y2="343.5" stroke="#000" stroke-width="1.1"/>
<line x1="279.08" y1="347.8" x2="279.08" y2="343.5" stroke="#000" stroke-width="1.1"/>
<line x1="295.10" y1="347.8" x2="295.10" y2="343.5" stroke="#000" stroke-width="1.1"/>
<line x1="311.12" y1="347.8" x2="311.12" y2="338.90000000000003" stroke="#000" stroke-width="1.4"/>
<line x1="327.14" y1="347.8" x2="327.14" y2="343.5" stroke="#000" stroke-width="1.1"/>
<line x1="343.16" y1="347.8" x2="343.16" y2="343.5" stroke="#000" stroke-width="1.1"/>
<line x1="359.18" y1="347.8" x2="359.18" y2="343.5" stroke="#000" stroke-width="1.1"/>
<line x1="375.20" y1="347.8" x2="375.20" y2="338.90000000000003" stroke="#000" stroke-width="1.4"/>
<line x1="57.6" y1="346.21" x2="62.0" y2="346.21" stroke="#000" stroke-width="1.1"/>
<line x1="57.6" y1="333.44" x2="62.0" y2="333.44" stroke="#000" stroke-width="1.1"/>
<line x1="57.6" y1="320.67" x2="62.0" y2="320.67" stroke="#000" stroke-width="1.1"/>
<line x1="57.6" y1="307.90" x2="66.9" y2="307.90" stroke="#000" stroke-width="1.4"/>
<line x1="57.6" y1="295.13" x2="62.0" y2="295.13" stroke="#000" stroke-width="1.1"/>
<line x1="57.6" y1="282.36" x2="62.0" y2="282.36" stroke="#000" stroke-width="1.1"/>
<line x1="57.6" y1="269.59" x2="62.0" y2="269.59" stroke="#000" stroke-width="1.1"/>
<line x1="57.6" y1="256.82" x2="66.9" y2="256.82" stroke="#000" stroke-width="1.4"/>
<line x1="57.6" y1="244.05" x2="62.0" y2="244.05" stroke="#000" stroke-width="1.1"/>
<line x1="57.6" y1="231.28" x2="62.0" y2="231.28" stroke="#000" stroke-width="1.1"/>
<line x1="57.6" y1="218.51" x2="62.0" y2="218.51" stroke="#000" stroke-width="1.1"/>
<line x1="57.6" y1="205.74" x2="66.9" y2="205.74" stroke="#000" stroke-width="1.4"/>
<line x1="57.6" y1="192.97" x2="62.0" y2="192.97" stroke="#000" stroke-width="1.1"/>
<line x1="57.6" y1="180.20" x2="62.0" y2="180.20" stroke="#000" stroke-width="1.1"/>
<line x1="57.6" y1="167.43" x2="62.0" y2="167.43" stroke="#000" stroke-width="1.1"/>
<line x1="57.6" y1="154.66" x2="66.9" y2="154.66" stroke="#000" stroke-width="1.4"/>
<line x1="57.6" y1="141.89" x2="62.0" y2="141.89" stroke="#000" stroke-width="1.1"/>
<line x1="57.6" y1="129.12" x2="62.0" y2="129.12" stroke="#000" stroke-width="1.1"/>
<line x1="57.6" y1="116.35" x2="62.0" y2="116.35" stroke="#000" stroke-width="1.1"/>
<line x1="57.6" y1="103.58" x2="66.9" y2="103.58" stroke="#000" stroke-width="1.4"/>
<line x1="57.6" y1="90.81" x2="62.0" y2="90.81" stroke="#000" stroke-width="1.1"/>
<line x1="57.6" y1="78.04" x2="62.0" y2="78.04" stroke="#000" stroke-width="1.1"/>
<line x1="57.6" y1="65.27" x2="62.0" y2="65.27" stroke="#000" stroke-width="1.1"/>
<line x1="57.6" y1="52.50" x2="66.9" y2="52.50" stroke="#000" stroke-width="1.4"/>
<line x1="57.6" y1="39.73" x2="62.0" y2="39.73" stroke="#000" stroke-width="1.1"/>
<line x1="57.6" y1="26.96" x2="62.0" y2="26.96" stroke="#000" stroke-width="1.1"/>
<line x1="57.6" y1="14.19" x2="62.0" y2="14.19" stroke="#000" stroke-width="1.1"/>
<rect x="57.6" y="7.8" width="317.7" height="340.0" fill="none" stroke="#000" stroke-width="1.1"/>
<rect x="296.3" y="306.3" width="73.89999999999998" height="35.69999999999999" rx="2.5" fill="#fff" fill-opacity="0.8" stroke="#cccccc" stroke-width="1.1"/>
<line x1="299.7" y1="315.2" x2="323.1" y2="315.2" stroke="#f00" stroke-width="1.8"/>
<line x1="299.7" y1="332" x2="323.1" y2="332" stroke="#00f" stroke-width="1.9" stroke-dasharray="6.75 2.31"/>
<text x="330.6" y="319.8" style="font-family:'DejaVu Sans',sans-serif;font-kerning:none;font-size:10.4px" stroke="#000" stroke-width="0.15">Tensor</text>
<text x="330.6" y="335.4" style="font-family:'DejaVu Sans',sans-serif;font-kerning:none;font-size:10.4px" stroke="#000" stroke-width="0.15">Vector</text>
<text x="118.73" y="361" text-anchor="middle" style="font-family:'DejaVu Sans',sans-serif;font-kerning:none;font-size:13.7px;letter-spacing:-0.75px" stroke="#000" stroke-width="0.2">0.2</text>
<text x="182.81" y="361" text-anchor="middle" style="font-family:'DejaVu Sans',sans-serif;font-kerning:none;font-size:13.7px;letter-spacing:-0.75px" stroke="#000" stroke-width="0.2">0.4</text>
<text x="246.89" y="361" text-anchor="middle" style="font-family:'DejaVu Sans',sans-serif;font-kerning:none;font-size:13.7px;letter-spacing:-0.75px" stroke="#000" stroke-width="0.2">0.6</text>
<text x="310.97" y="361" text-anchor="middle" style="font-family:'DejaVu Sans',sans-serif;font-kerning:none;font-size:13.7px;letter-spacing:-0.75px" stroke="#000" stroke-width="0.2">0.8</text>
<text x="375.05" y="361" text-anchor="middle" style="font-family:'DejaVu Sans',sans-serif;font-kerning:none;font-size:13.7px;letter-spacing:-0.75px" stroke="#000" stroke-width="0.2">1.0</text>
<text x="53.1" y="311.85" text-anchor="end" style="font-family:'DejaVu Sans',sans-serif;font-kerning:none;font-size:13.7px;letter-spacing:-0.75px" stroke="#000" stroke-width="0.2">0.2</text>
<text x="53.1" y="260.77" text-anchor="end" style="font-family:'DejaVu Sans',sans-serif;font-kerning:none;font-size:13.7px;letter-spacing:-0.75px" stroke="#000" stroke-width="0.2">0.4</text>
<text x="53.1" y="209.69" text-anchor="end" style="font-family:'DejaVu Sans',sans-serif;font-kerning:none;font-size:13.7px;letter-spacing:-0.75px" stroke="#000" stroke-width="0.2">0.6</text>
<text x="53.1" y="158.41" text-anchor="end" style="font-family:'DejaVu Sans',sans-serif;font-kerning:none;font-size:13.7px;letter-spacing:-0.75px" stroke="#000" stroke-width="0.2">0.8</text>
<text x="53.1" y="107.53" text-anchor="end" style="font-family:'DejaVu Sans',sans-serif;font-kerning:none;font-size:13.7px;letter-spacing:-0.75px" stroke="#000" stroke-width="0.2">1.0</text>
<text x="53.1" y="57.35" text-anchor="end" style="font-family:'DejaVu Sans',sans-serif;font-kerning:none;font-size:13.7px;letter-spacing:-0.75px" stroke="#000" stroke-width="0.2">1.2</text>
<text x="216.0" y="384.0" text-anchor="middle" style="font-family:'DejaVu Sans',sans-serif;font-kerning:none;font-size:16.44px;font-style:italic" stroke="#000" stroke-width="0.2">v</text>
<text transform="translate(22.80,234.20) rotate(-90)" style="font-family:'DejaVu Sans',sans-serif;font-kerning:none;font-size:16.44px;font-style:italic" stroke="#000" stroke-width="0.2">m</text>
<text transform="translate(26.20,217.00) rotate(-90)" style="font-family:'DejaVu Sans',sans-serif;font-kerning:none;font-size:11.5px;" stroke="#000" stroke-width="0.2">g</text>
<text transform="translate(22.80,205.00) rotate(-90)" style="font-family:'DejaVu Sans',sans-serif;font-kerning:none;font-size:16.44px;" stroke="#000" stroke-width="0.2">[</text>
<text transform="translate(22.80,200.00) rotate(-90)" style="font-family:'DejaVu Sans',sans-serif;font-kerning:none;font-size:16.44px;" stroke="#000" stroke-width="0.2">10</text>
<text transform="translate(16.00,178.50) rotate(-90)" style="font-family:'DejaVu Sans',sans-serif;font-kerning:none;font-size:11.5px;" stroke="#000" stroke-width="0.2">−</text>
<text transform="translate(16.50,169.50) rotate(-90)" style="font-family:'DejaVu Sans',sans-serif;font-kerning:none;font-size:11.5px;letter-spacing:-0.8px" stroke="#000" stroke-width="0.2">22</text>
<text transform="translate(22.80,149.20) rotate(-90)" style="font-family:'DejaVu Sans',sans-serif;font-kerning:none;font-size:16.44px;letter-spacing:-0.7px" stroke="#000" stroke-width="0.2">eV]</text>
</svg>
</body></html>
